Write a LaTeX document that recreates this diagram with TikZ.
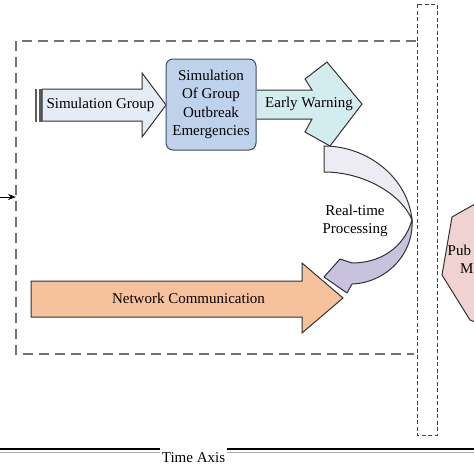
\documentclass[tikz,border=0pt]{standalone}
\usepackage{fontspec}
\setmainfont{Liberation Serif}
\usetikzlibrary{arrows.meta}
\definecolor{sgfill}{HTML}{E6ECF5}
\definecolor{boxfill}{HTML}{BFD2EB}
\definecolor{boxdraw}{HTML}{3F4F66}
\definecolor{ewfill}{HTML}{D3EDEF}
\definecolor{rtlight}{HTML}{EDEBF4}
\definecolor{rtdark}{HTML}{C8C2DE}
\definecolor{ncfill}{HTML}{F6C29B}
\definecolor{hexfill}{HTML}{F1D2D2}
\definecolor{edge}{HTML}{333333}
\begin{document}
\begin{tikzpicture}[x=1pt,y=-1pt,
  font=\fontsize{15}{18.5}\selectfont,
  shapeline/.style={draw=edge,line width=1pt,line join=miter},
  bigdash/.style={draw=gray!90!black,line width=1.1pt,dash pattern=on 10pt off 6pt},
  smalldash/.style={draw=black!75,line width=0.9pt,dash pattern=on 4pt off 2.5pt},
  lbl/.style={inner sep=0pt,align=center},
  simbox/.style={draw=boxdraw,fill=boxfill,line width=1pt,rounded corners=7pt,
    minimum width=90pt,minimum height=91pt,align=center,inner sep=0pt}]
\useasboundingbox (0,0) rectangle (474,474);
\clip (0,0) rectangle (474,474);

% frames
\draw[bigdash] (416,41) -- (16,41) -- (16,354) -- (414,354);
\draw[smalldash] (417,4) rectangle (437,435);

% incoming arrow
\coordinate (inL) at (0,197);
\coordinate (inR) at (16,197);
\draw[line width=1pt,-{Stealth[length=8pt,width=6pt]}] (inL) -- (inR);

% Simulation Group arrow
\fill[edge!80] (34.5,88.5) rectangle (36.8,121.5);
\fill[edge!80] (39.2,88.5) rectangle (41.5,121.5);
\draw[shapeline,fill=sgfill] (42,89) -- (142,89) -- (142,73) -- (166,105) -- (142,137) -- (142,121) -- (42,121) -- cycle;
\node[lbl] (sg) at (100.5,105) {Simulation Group};

% central box
\node[simbox] (sim) at (211,104.5) {Simulation\\Of Group\\Outbreak\\Emergencies};

% Early warning arrow
\draw[shapeline,fill=ewfill] (sim.east |- 0,90) -- (312,90) -- (305,79) -- (327,62) -- (362,104) -- (330,146) -- (305,132) -- (312,119) -- (sim.east |- 0,119);
\node[lbl] (ew) at (309,104) {Early Warning};

% Real-time processing curved arrow
\draw[shapeline,fill=rtlight] (324,146) .. controls (368,146) and (408,178) .. (412,220)
   .. controls (402,195) and (365,172) .. (324,172) -- cycle;
\draw[shapeline,fill=rtdark] (412,220) .. controls (404,248) and (380,263) .. (352,263)
   -- (340,259) -- (324,277) -- (347,293) -- (352,284)
   .. controls (385,283) and (414,255) .. (412,220) -- cycle;
\node[lbl] (rt) at (355,221) {Real-time\\Processing};

% Network communication arrow
\draw[shapeline,fill=ncfill] (31,281) -- (302,281) -- (302,263) -- (343,298) -- (302,333) -- (302,317) -- (31,317) -- cycle;
\node[lbl] (nc) at (188.5,298.5) {Network Communication};

% public hexagon (cut by the edge)
\draw[shapeline,fill=hexfill] (482,200) -- (452,217) -- (442,275) -- (470,320) -- (495,330) -- (505,260) -- cycle;
\node[inner sep=0pt,anchor=base west] (pub) at (447.5,255) {Pub};
\node[inner sep=0pt,anchor=base west] (m) at (460,273) {M};

% time axis
\coordinate (axL) at (0,449);
\coordinate (axR) at (474,449);
\draw[line width=1.8pt,black!30] (0,452.5) -- (474,452.5);
\draw[line width=2.6pt] (axL) -- (axR);
\node[fill=white,anchor=base,inner xsep=2pt,inner ysep=0pt,text height=14pt] (ta) at (193.5,462) {Time Axis};
\end{tikzpicture}
\end{document}
